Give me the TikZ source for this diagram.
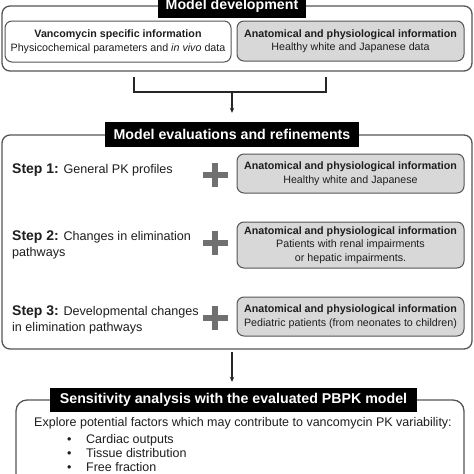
\documentclass[tikz,border=0pt]{standalone}
\usepackage{fontspec}
\setmainfont{Liberation Sans}
\usetikzlibrary{arrows.meta,calc}
\definecolor{edge}{HTML}{555555}
\definecolor{boxgray}{HTML}{D8D8D8}
\definecolor{plusgray}{HTML}{707070}
\definecolor{txt}{HTML}{1E1E1E}
\begin{document}
\begin{tikzpicture}[x=1pt,y=-1pt,
  outer/.style={draw=edge,line width=1.3pt,rounded corners=8pt,inner sep=0pt,fill=white},
  info/.style={draw=edge,line width=1pt,rounded corners=7pt,inner sep=0pt,align=center,text=txt,font=\fontsize{10.7}{13.5}\selectfont},
  grayinfo/.style={info,fill=boxgray},
  titlebox/.style={fill=black,text=white,inner sep=0pt,font=\bfseries\fontsize{14.2}{16}\selectfont},
  steptext/.style={anchor=west,align=left,inner sep=0pt,text=txt,font=\fontsize{12.6}{16}\selectfont},
  conn/.style={draw=black!85,line width=1.2pt},
  arr/.style={conn,-{Stealth[length=5pt,width=4.5pt]}},
  plussign/.pic={\fill[plusgray] (-12.5,-3) rectangle (12.5,3);
                 \fill[plusgray] (-3,-12) rectangle (3,12);}
]
\clip (0,0) rectangle (474,474);
\fill[white] (0,0) rectangle (474,474);
\newcommand{\stp}[1]{{\bfseries\fontsize{14}{16}\selectfont #1}}

% ---- Model development
\node[outer,minimum width=470pt,minimum height=65pt] (A) at (237,38.5) {};
\node[titlebox,minimum width=148pt,minimum height=24pt] (tA) at (232,6) {Model development};
\node[info,fill=white,minimum width=226pt,minimum height=41pt] (A1) at (118,41.5)
  {\textbf{Vancomycin specific information}\\Physicochemical parameters and \textit{in vivo} data};
\node[grayinfo,minimum width=227pt,minimum height=40pt] (A2) at (350.5,41)
  {\textbf{Anatomical and physiological information}\\Healthy white and Japanese data};

% ---- Model evaluations and refinements
\node[outer,minimum width=470pt,minimum height=214pt] (B) at (237,242) {};
\node[titlebox,minimum width=254pt,minimum height=25pt] (tB) at (232,134.5) {Model evaluations and refinements};

\node[steptext] (s1) at (12,170) {\stp{Step 1:} General PK profiles};
\node[steptext] (s2) at (12,245) {\stp{Step 2:} Changes in elimination\\pathways};
\node[steptext] (s3) at (12,320) {\stp{Step 3:} Developmental changes\\in elimination pathways};

\pic at (215,175) {plussign};
\pic at (215,243) {plussign};
\pic at (215,318) {plussign};

\node[grayinfo,minimum width=227pt,minimum height=39pt] (g1) at (350.5,173.5)
  {\textbf{Anatomical and physiological information}\\Healthy white and Japanese};
\node[grayinfo,minimum width=227pt,minimum height=46pt] (g2) at (350.5,245)
  {\textbf{Anatomical and physiological information}\\Patients with renal impairments\\or hepatic impairments.};
\node[grayinfo,minimum width=227pt,minimum height=39pt] (g3) at (350.5,316.5)
  {\textbf{Anatomical and physiological information}\\Pediatric patients (from neonates to children)};

% ---- Sensitivity analysis
\node[outer,rounded corners=11pt,minimum width=448pt,minimum height=100pt] (C) at (240,450) {};
\node[titlebox,minimum width=367pt,minimum height=24pt] (tC) at (233.5,400) {Sensitivity analysis with the evaluated PBPK model};
\node[inner sep=0pt,text=txt,font=\fontsize{12.5}{14.5}\selectfont] (ex) at (243,423)
  {Explore potential factors which may contribute to vancomycin PK variability:};
\node[anchor=west,inner sep=0pt,align=left,text=txt,font=\fontsize{12.5}{14}\selectfont] (list) at (67,453)
  {\makebox[19pt][l]{•}Cardiac outputs\\\makebox[19pt][l]{•}Tissue distribution\\\makebox[19pt][l]{•}Free fraction};

% ---- connectors
\coordinate (bl) at (134,77);
\coordinate (br) at (326,77);
\coordinate (bm) at (232,92);
\draw[conn] (bl) -- (bl|-bm) -- (br|-bm) -- (br);
\draw[arr,shorten >=9pt] (bm) -- (tB.north);
\coordinate (a2) at (232,352);
\draw[arr,shorten >=6pt] (a2) -- (a2|-tC.north);
\end{tikzpicture}
\end{document}
